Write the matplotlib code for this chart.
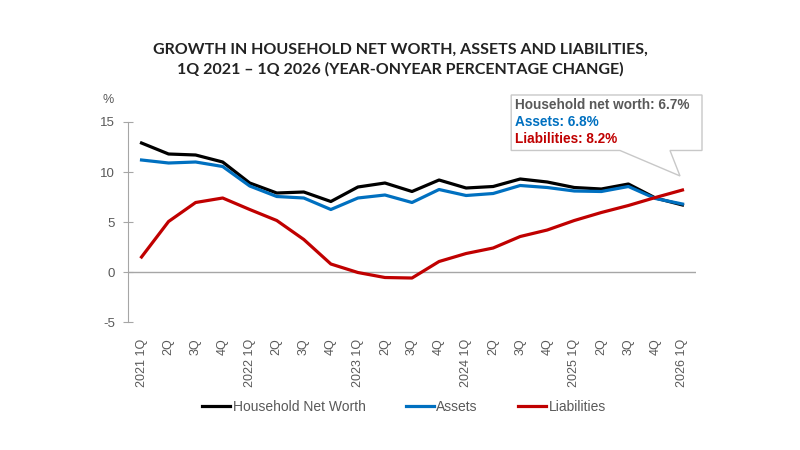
import matplotlib.pyplot as plt
from matplotlib.patches import Polygon

# Dati
trimestri = ["2021 1Q", "2Q", "3Q", "4Q",
             "2022 1Q", "2Q", "3Q", "4Q",
             "2023 1Q", "2Q", "3Q", "4Q",
             "2024 1Q", "2Q", "3Q", "4Q",
             "2025 1Q", "2Q", "3Q", "4Q",
             "2026 1Q"]
patrimonio_netto = [12.9, 11.8, 11.7, 11.0, 8.9, 7.9, 8.0, 7.05, 8.5, 8.9, 8.05,
                    9.2, 8.4, 8.55, 9.3, 9.0, 8.45, 8.3, 8.8, 7.4, 6.7]
attivita = [11.2, 10.9, 11.0, 10.55, 8.6, 7.55, 7.4, 6.25, 7.4, 7.7, 6.95,
            8.25, 7.65, 7.85, 8.65, 8.45, 8.1, 8.05, 8.55, 7.35, 6.8]
passivita = [1.5, 5.05, 6.95, 7.4, 6.25, 5.15, 3.25, 0.8, -0.05, -0.55, -0.6,
             1.05, 1.85, 2.4, 3.55, 4.2, 5.15, 5.95, 6.65, 7.45, 8.2]
etichette = ["Household Net Worth", "Assets", "Liabilities"]
colori = ["#000000", "#0070C0", "#C00000"]

plt.rcParams["font.family"] = ["Liberation Sans", "DejaVu Sans"]
plt.rcParams["axes.unicode_minus"] = False
grigio = "#595959"
linea = "#a6a6a6"

fig = plt.figure(figsize=(8, 4.5), dpi=100)
ax = fig.add_axes([0.16, 0.2844, 0.71, 0.4445])

x = range(len(trimestri))
for serie, nome, colore in zip([patrimonio_netto, attivita, passivita], etichette, colori):
    ax.plot(x, serie, color=colore, linewidth=2.3, label=nome, solid_joinstyle="round")

ax.axhline(0, color=linea, linewidth=1, zorder=0)
ax.set_xlim(-0.5, len(trimestri) - 0.5)
ax.set_ylim(-5, 15)
ax.set_yticks([-5, 0, 5, 10, 15])
ax.set_xticks(list(x))
ax.set_xticklabels(trimestri, rotation=90, fontsize=9, color=grigio)

for lato in ["top", "right", "bottom"]:
    ax.spines[lato].set_visible(False)
ax.spines["left"].set_color(linea)
ax.tick_params(axis="y", direction="inout", length=7, color=linea, labelcolor=grigio,
               labelsize=9.5, pad=6)
ax.tick_params(axis="x", length=0, pad=12)

fig.text(0.135, 0.778, "%", fontsize=9, color=grigio, ha="center", va="center")

# Titolo
fig.text(0.5, 0.868, "GROWTH IN HOUSEHOLD NET WORTH, ASSETS AND LIABILITIES,\n"
         "1Q 2021 \u2013 1Q 2026 (YEAR-ONYEAR PERCENTAGE CHANGE)",
         ha="center", va="center", fontsize=11.5, fontweight="bold",
         family="Lato", color="#222222", linespacing=1.45)

# Riquadro di richiamo
forma = [(0.639, 0.7889), (0.8775, 0.7889), (0.8775, 0.6656), (0.8375, 0.6656),
         (0.85, 0.609), (0.775, 0.6656), (0.639, 0.6656)]
fig.patches.append(Polygon(forma, closed=True, transform=fig.transFigure,
                           facecolor="white", edgecolor="#c8c8c8", linewidth=1))
testi = ["Household net worth: %.1f%%" % patrimonio_netto[-1],
         "Assets: %.1f%%" % attivita[-1],
         "Liabilities: %.1f%%" % passivita[-1]]
for i, (t, c) in enumerate(zip(testi, [grigio, colori[1], colori[2]])):
    fig.text(0.644, 0.766 - i * 0.037, t, fontsize=9.8, fontweight="bold",
             color=c, va="center")

fig.legend(loc="center", bbox_to_anchor=(0.505, 0.0956), ncol=3, frameon=False,
           fontsize=10, labelcolor=grigio, handlelength=2.0, handletextpad=0.2,
           columnspacing=2.9)

plt.savefig("out.png", dpi=100)
